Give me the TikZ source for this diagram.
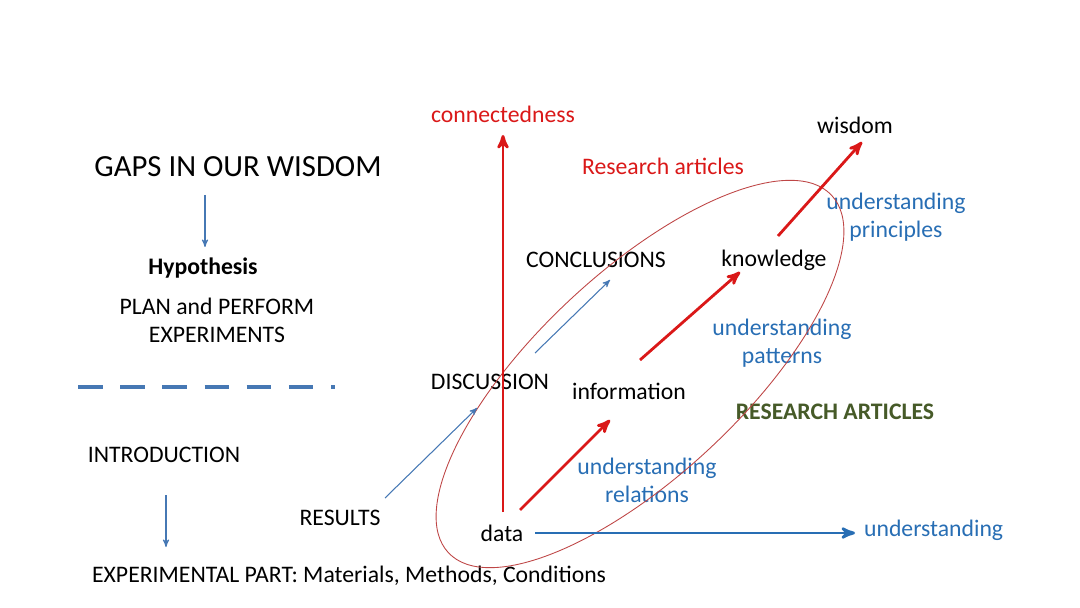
\documentclass[tikz,border=0pt]{standalone}
\usepackage{fontspec}
\setmainfont{Carlito}
\usetikzlibrary{arrows,positioning}
\definecolor{artred}{RGB}{218,24,24}
\definecolor{flowblue}{RGB}{40,110,180}
\definecolor{thinblue}{RGB}{70,120,180}
\definecolor{artgreen}{RGB}{70,90,40}
\definecolor{ringred}{RGB}{190,70,70}
\tikzset{
    label/.style={
           inner sep=1pt,
           font=\fontsize{13.5}{16}\selectfont,
           align=center,
           },
    redlabel/.style={label, text=artred},
    bluelabel/.style={label, text=flowblue},
    thick red/.style={->, >=stealth', draw=artred, line width=1.6pt},
    thin blue/.style={->, >=stealth', draw=thinblue, line width=0.6pt},
}

\begin{document}
\begin{tikzpicture}[x=0.02cm,y=-0.02cm]
        \useasboundingbox (0,0) rectangle (1080,608);

        % left column
        \node[label, font=\fontsize{17.5}{20}\selectfont] (GAPS) at (238,167) {GAPS IN OUR WISDOM};
        \node[label, font=\bfseries\fontsize{13.5}{16}\selectfont] (HYPO) at (203,268) {Hypothesis};
        \node[label] (PLAN) at (217,320) {PLAN and PERFORM\\EXPERIMENTS};
        \node[label] (INTRO) at (164,455) {INTRODUCTION};
        \node[label, anchor=west] (EXP) at (90,576) {EXPERIMENTAL PART: Materials, Methods, Conditions};
        \coordinate (GAPS_OUT) at (205,195);
        \coordinate (HYPO_IN) at (205,247);
        \coordinate (INTRO_OUT) at (166,495);
        \coordinate (EXP_IN) at (166,547);
        \coordinate (DASH_L) at (78,387);
        \coordinate (DASH_R) at (335,387);

        % article sections
        \node[label] (RES) at (340,518) {RESULTS};
        \node[label] (DISC) at (490,382) {DISCUSSION};
        \node[label] (CONC) at (596,260) {CONCLUSIONS};
        \coordinate (RES_OUT) at (385,498);
        \coordinate (DISC_IN) at (477,408);
        \coordinate (DISC_OUT) at (535,353);
        \coordinate (CONC_IN) at (610,280);

        % hierarchy
        \node[label] (DATA) at (502,533) {data};
        \node[label] (INFO) at (629,391) {information};
        \node[label] (KNOW) at (774,260) {knowledge};
        \node[label] (WIS) at (855,125) {wisdom};
        \node[redlabel] (CONN) at (503,114) {connectedness};
        \node[redlabel] (ARTS) at (663,166) {Research articles};
        \node[bluelabel, anchor=west] (UND) at (862,530) {understanding};
        \node[bluelabel] (UPRIN) at (896,217) {understanding\\principles};
        \node[bluelabel] (UPAT) at (782,343) {understanding\\patterns};
        \node[bluelabel] (UREL) at (647,480) {understanding\\relations};
        \node[label, text=artgreen, font=\bfseries\fontsize{13.5}{16}\selectfont] (RA) at (835,412) {RESEARCH ARTICLES};
        \coordinate (CONN_IN) at (503,135);
        \coordinate (CONN_OUT) at (503,512);
        \coordinate (UND_OUT) at (535,533);
        \coordinate (UND_IN) at (855,533);

        \draw[ringred, line width=0.5pt, rotate around={43:(640,374)}] (640,374) ellipse [x radius=262, y radius=102];

        % connectors
        \draw[thin blue] (GAPS_OUT) -- (HYPO_IN);
        \draw[thin blue] (INTRO_OUT) -- (EXP_IN);
        \draw[draw=thinblue, line width=2pt, dash pattern=on 14pt off 10pt] (DASH_L) -- (DASH_R);
        \draw[thin blue] (RES_OUT) -- (DISC_IN);
        \draw[thin blue] (DISC_OUT) -- (CONC_IN);
        \draw[thick red] (CONN_OUT) -- (CONN_IN);
        \draw[->, >=stealth', draw=flowblue, line width=1.6pt] (UND_OUT) -- (UND_IN);
        \draw[thick red] (520,510) -- (610,420);
        \draw[thick red] (640,360) -- (740,272);
        \draw[thick red] (778,236) -- (862,142);
\end{tikzpicture}
\end{document}
